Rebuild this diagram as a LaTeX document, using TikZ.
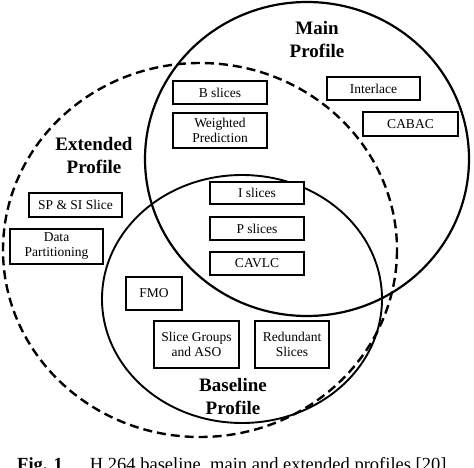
\documentclass[tikz,border=0pt]{standalone}
\usepackage{fontspec}
\setmainfont{Liberation Serif}
\begin{document}
\begin{tikzpicture}[x=1pt,y=-1pt,
  feat/.style={draw,line width=1.2pt,fill=white,align=center,inner sep=0pt,
    font=\fontsize{13.5}{15}\selectfont},
  ttl/.style={align=center,font=\fontsize{19}{23}\selectfont\bfseries},
  solidring/.style={line width=2.2pt},
  dashring/.style={line width=2.4pt,dash pattern=on 9pt off 5pt}]
\useasboundingbox (0,0) rectangle (474,468);
\clip (0,0) rectangle (474,468);
% profiles
\draw[solidring] (307,159) ellipse [x radius=162, y radius=157];
\draw[dashring] (200,250) ellipse [x radius=197, y radius=187];
\draw[line width=1.9pt] (242,299) ellipse [x radius=140, y radius=124];
% titles
\node[ttl] (tmain) at (317,40) {Main\\Profile};
\node[ttl] (text) at (94,156) {Extended\\Profile};
\node[ttl] (tbase) at (233,396) {Baseline\\Profile};
% features
\node[feat,minimum width=94pt,minimum height=23pt] (bsl) at (220,92.5) {B slices};
\node[feat,minimum width=94pt,minimum height=35pt] (wp) at (220,130.5) {Weighted\\Prediction};
\node[feat,minimum width=93pt,minimum height=23pt] (il) at (373.5,88.5) {Interlace};
\node[feat,minimum width=95pt,minimum height=24pt] (cabac) at (410.5,124) {CABAC};
\node[feat,minimum width=93pt,minimum height=24pt] (spsi) at (75.5,205) {SP \& SI Slice};
\node[feat,minimum width=93pt,minimum height=35pt] (dp) at (56.5,246.5) {Data\\Partitioning};
\node[feat,minimum width=94pt,minimum height=22pt] (isl) at (257,193) {I slices};
\node[feat,minimum width=94pt,minimum height=23pt] (psl) at (257,228.5) {P slices};
\node[feat,minimum width=94pt,minimum height=23pt] (cavlc) at (257,263.5) {CAVLC};
\node[feat,minimum width=56pt,minimum height=33pt] (fmo) at (154,293.5) {FMO};
\node[feat,minimum width=85pt,minimum height=47pt] (sga) at (196.5,344.5) {Slice Groups\\and ASO};
\node[feat,minimum width=74pt,minimum height=47pt] (rs) at (292,344.5) {Redundant\\Slices};
% caption
\node[anchor=base west,inner sep=0pt,font=\fontsize{18.5}{22}\selectfont] (cap) at (17,470)
  {\textbf{Fig. 1}\hspace{27pt}H.264 baseline, main and extended profiles [20]};
\end{tikzpicture}
\end{document}
